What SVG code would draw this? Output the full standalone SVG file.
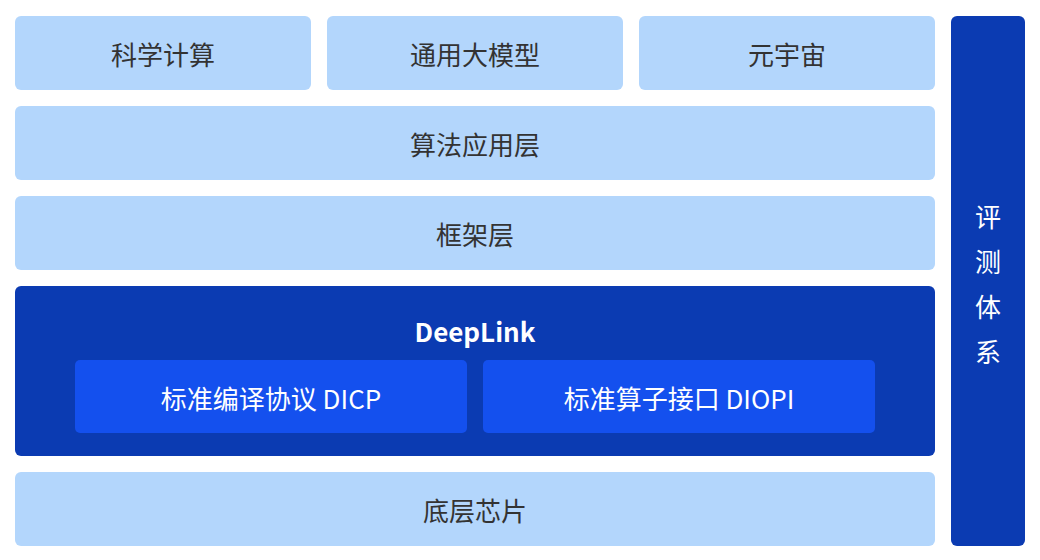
<svg xmlns="http://www.w3.org/2000/svg" width="1040" height="560" viewBox="0 0 1040 560">
<style>
.l{fill:#b3d6fc}
.d{fill:#0b3bb2}
.i{fill:#1450ee}
text{font-family:"Noto Sans CJK SC","Noto Sans",sans-serif;text-anchor:middle;dominant-baseline:central}
.t{font-size:26px;fill:#333}
.w{font-size:26px;fill:#fff}
</style>
<rect width="1040" height="560" fill="#fff"/>
<g id="n1"><rect class="l" x="15" y="16" width="296" height="74" rx="6"/><text class="t" x="163" y="53">科学计算</text></g>
<g id="n2"><rect class="l" x="327" y="16" width="296" height="74" rx="6"/><text class="t" x="475" y="53">通用大模型</text></g>
<g id="n3"><rect class="l" x="639" y="16" width="296" height="74" rx="6"/><text class="t" x="787" y="53">元宇宙</text></g>
<g id="n4"><rect class="l" x="15" y="106" width="920" height="74" rx="6"/><text class="t" x="475" y="143">算法应用层</text></g>
<g id="n5"><rect class="l" x="15" y="196" width="920" height="74" rx="6"/><text class="t" x="475" y="233">框架层</text></g>
<g id="n6"><rect class="d" x="15" y="286" width="920" height="170" rx="6"/><text class="w" x="475" y="330" font-weight="bold" font-family="Noto Sans,sans-serif">DeepLink</text></g>
<g id="n7"><rect class="i" x="75" y="360" width="392" height="73" rx="5"/><text class="w" x="271" y="397">标准编译协议 DICP</text></g>
<g id="n8"><rect class="i" x="483" y="360" width="392" height="73" rx="5"/><text class="w" x="679" y="397">标准算子接口 DIOPI</text></g>
<g id="n9"><rect class="l" x="15" y="472" width="920" height="74" rx="6"/><text class="t" x="475" y="509">底层芯片</text></g>
<g id="n10"><rect class="d" x="951" y="16" width="74" height="530" rx="6"/>
<text class="w" x="988" y="215">评</text><text class="w" x="988" y="260">测</text><text class="w" x="988" y="305">体</text><text class="w" x="988" y="350">系</text></g>
<g id="connectors"/>
</svg>
